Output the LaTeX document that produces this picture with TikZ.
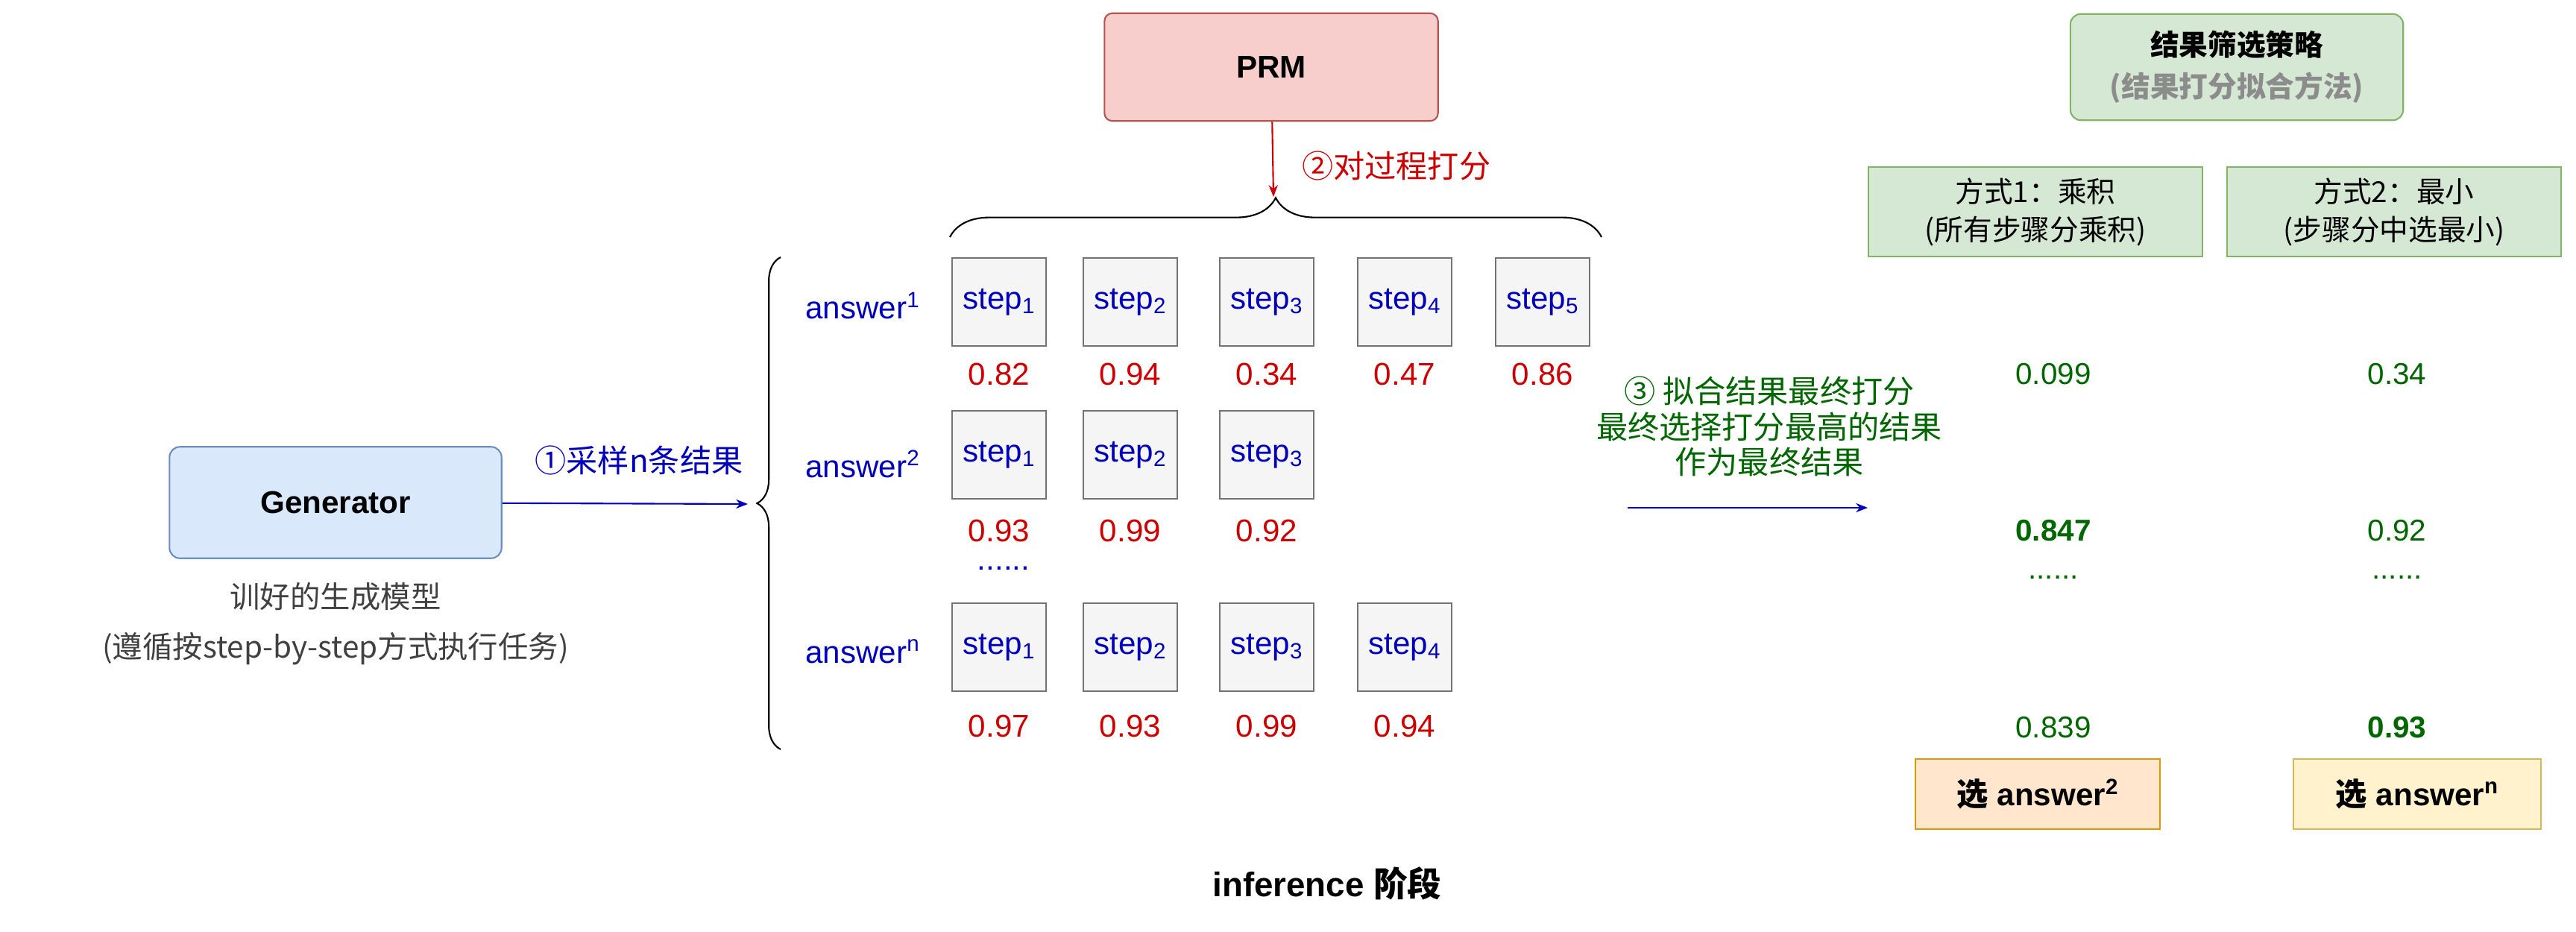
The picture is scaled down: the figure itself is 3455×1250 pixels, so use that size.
\documentclass[tikz,border=0pt]{standalone}
\usepackage{fontspec}
\setmainfont{Liberation Sans}
\newfontfamily\cjk{Noto Sans CJK SC}
\usetikzlibrary{decorations.pathreplacing,arrows.meta}
\definecolor{tblue}{HTML}{0000BB}
\definecolor{tred}{HTML}{CC0000}
\definecolor{tgreen}{HTML}{006600}
\tikzset{x=0.2mm,y=-0.2mm,
 every node/.style={font=\fontsize{24}{28}\selectfont},
 stepbox/.style={draw=black!55,line width=1.2pt,fill=black!4,minimum width=126*0.567pt,minimum height=119*0.567pt,text=tblue,inner sep=0pt},
 score/.style={text=tred},
 ans/.style={text=tblue},
 val/.style={text=tgreen,font=\fontsize{23}{28}\selectfont},
 meth/.style={draw=HTML82B366,fill=HTMLD5E8D4,line width=1.2pt,align=center,minimum width=450*0.567pt,minimum height=121*0.567pt,inner sep=0pt,font=\cjk\fontsize{22}{29}\selectfont},
 arr/.style={-{Stealth[length=9pt,width=7pt]},line width=1.2pt}}
\colorlet{HTML82B366}{green!50!black!60}
\definecolor{HTML82B366}{HTML}{82B366}
\definecolor{HTMLD5E8D4}{HTML}{D5E8D4}
\begin{document}
\begin{tikzpicture}
\useasboundingbox (0,0) rectangle (3455,1250);
% PRM
\node[draw={rgb,255:red,184;green,84;blue,80},fill={rgb,255:red,248;green,206;blue,204},line width=1.2pt,rounded corners=6pt,minimum width=449*0.567pt,minimum height=145*0.567pt,font=\bfseries\fontsize{24}{28}\selectfont] (prm) at (1705,90) {PRM};
% top brace
\coordinate (tb1) at (1274,318); \coordinate (tb2) at (2148,318); \coordinate (tbt) at (1708,264);
\draw[line width=1.2pt,decorate,decoration={brace,amplitude=30pt}] (tb1) -- (tb2);
\draw[arr,draw=tred] (prm) -- (tbt);
\node[text=tred,anchor=west,font=\cjk\fontsize{24}{28}\selectfont] (lab2) at (1740,222) {②对过程打分};
% generator
\node[draw={rgb,255:red,108;green,142;blue,191},fill={rgb,255:red,218;green,232;blue,252},line width=1.2pt,rounded corners=8pt,minimum width=447*0.567pt,minimum height=150*0.567pt,font=\bfseries\fontsize{24}{28}\selectfont] (gen) at (450,674) {Generator};
\node[text=black!75,align=center,font=\cjk\fontsize{23}{38}\selectfont] (gdesc) at (450,837) {训好的生成模型\\(遵循按step-by-step方式执行任务)};
% left brace
\coordinate (lb1) at (1047,1005); \coordinate (lb2) at (1047,345); \coordinate (lbt) at (1003,676);
\draw[line width=1.2pt,decorate,decoration={brace,amplitude=18pt}] (lb1) -- (lb2);
\draw[arr,draw=tblue] (gen) -- (lbt);
\node[text=tblue,font=\cjk\fontsize{24}{28}\selectfont] (lab1) at (857,617) {①采样n条结果};
% answers
\node[ans] (a1) at (1157,410) {answer\textsuperscript{1}};
\node[ans] (a2) at (1157,622) {answer\textsuperscript{2}};
\node[ans] (an) at (1157,874) {answer\textsuperscript{n}};
% rows
\foreach \i/\x/\s in {1/1340/0.82,2/1516/0.94,3/1699/0.34,4/1884/0.47,5/2069/0.86}{
 \node[stepbox] (r1s\i) at (\x,405) {step\textsubscript{\i}};
 \node[score] (r1v\i) at (\x,502) {\s};}
\foreach \i/\x/\s in {1/1340/0.93,2/1516/0.99,3/1699/0.92}{
 \node[stepbox] (r2s\i) at (\x,610) {step\textsubscript{\i}};
 \node[score] (r2v\i) at (\x,712) {\s};}
\node[text=tblue] (dots) at (1346,762) {......};
\foreach \i/\x/\s in {1/1340/0.97,2/1516/0.93,3/1699/0.99,4/1884/0.94}{
 \node[stepbox] (r3s\i) at (\x,868) {step\textsubscript{\i}};
 \node[score] (r3v\i) at (\x,974) {\s};}
% middle label and arrow
\node[text=tgreen,align=center,font=\cjk\fontsize{24}{27}\selectfont] (lab3) at (2373,572) {③ 拟合结果最终打分\\最终选择打分最高的结果\\作为最终结果};
\coordinate (ma1) at (2183,681); \coordinate (ma2) at (2505,681);
\draw[arr,draw=tblue] (ma1) -- (ma2);
% strategy
\node[draw=HTML82B366,fill=HTMLD5E8D4,line width=1.2pt,rounded corners=8pt,minimum width=448*0.567pt,minimum height=143*0.567pt,align=center,font=\cjk\bfseries\fontsize{22}{32}\selectfont] (strat) at (3000,90) {结果筛选策略\\\textcolor{black!45}{(结果打分拟合方法)}};
\node[meth] (m1) at (2730,284) {方式1：乘积\\(所有步骤分乘积)};
\node[meth] (m2) at (3211,284) {方式2：最小\\(步骤分中选最小)};
\node[val] (v11) at (2754,502) {0.099};
\node[val] (v21) at (3215,502) {0.34};
\node[val,font=\bfseries\fontsize{23}{28}\selectfont] (v12) at (2754,712) {0.847};
\node[val] (v22) at (3215,712) {0.92};
\node[val] (v13) at (2754,774) {......};
\node[val] (v23) at (3215,774) {......};
\node[val] (v14) at (2754,976) {0.839};
\node[val,font=\bfseries\fontsize{23}{28}\selectfont] (v24) at (3215,976) {0.93};
\node[draw={rgb,255:red,215;green,155;blue,0},fill={rgb,255:red,255;green,230;blue,204},line width=1.2pt,minimum width=329*0.567pt,minimum height=95*0.567pt,font=\bfseries\fontsize{24}{28}\selectfont] (s1) at (2733,1065) {{\cjk 选} answer\textsuperscript{2}};
\node[draw={rgb,255:red,214;green,182;blue,86},fill={rgb,255:red,255;green,242;blue,204},line width=1.2pt,minimum width=333*0.567pt,minimum height=95*0.567pt,font=\bfseries\fontsize{24}{28}\selectfont] (s2) at (3242,1065) {{\cjk 选} answer\textsuperscript{n}};
\node[font=\bfseries\fontsize{26}{30}\selectfont] (title) at (1780,1185) {inference {\cjk 阶段}};
\end{tikzpicture}
\end{document}
